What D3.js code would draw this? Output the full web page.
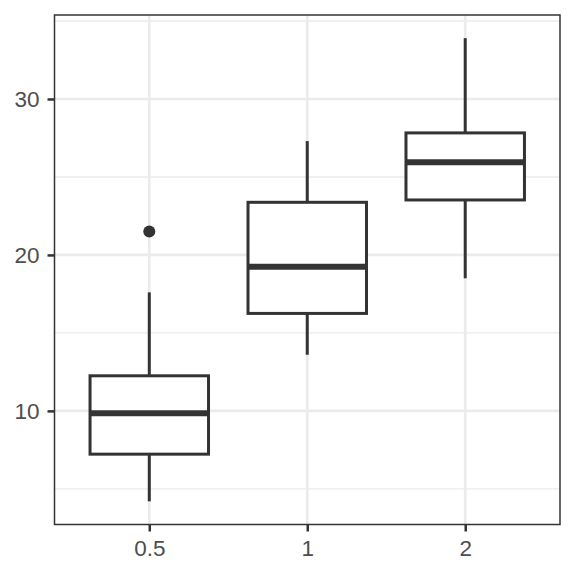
<!DOCTYPE html>
<html><head><meta charset="utf-8">
<script src="https://cdn.jsdelivr.net/npm/d3@7"></script>
<style>body{margin:0;background:#fff}</style>
</head><body>
<script>
const categories = ["0.5", "1", "2"];
const lowerWhisker = [4.2, 13.6, 18.5];
const q1 = [7.225, 16.25, 23.525];
const median = [9.85, 19.25, 25.95];
const q3 = [12.25, 23.375, 27.825];
const upperWhisker = [17.6, 27.3, 33.9];
const outliers = [{cat: "0.5", value: 21.5}];
const yTicks = [10, 20, 30];
const yMinor = [5, 15, 25, 35];

(function () {
const W = 576, H = 576;
const pl = 54.5, pr = 560, pt = 15, pb = 524.5;
const svg = d3.select("body").append("svg").attr("width", W).attr("height", H);

const y = d3.scaleLinear().domain([2.715, 35.385]).range([pb, pt]);
const x = d3.scalePoint().domain(categories).range([pl, pr]).padding(0.6);
const step = x.step();
const boxW = step * 0.75;

svg.append("rect").attr("x", pl).attr("y", pt).attr("width", pr - pl).attr("height", pb - pt).attr("fill", "#fff");

const g = svg.append("g");
g.selectAll(".minor").data(yMinor).join("line")
  .attr("x1", pl).attr("x2", pr).attr("y1", d => y(d)).attr("y2", d => y(d))
  .attr("stroke", "#ebebeb").attr("stroke-width", 1.4);
g.selectAll(".majy").data(yTicks).join("line")
  .attr("x1", pl).attr("x2", pr).attr("y1", d => y(d)).attr("y2", d => y(d))
  .attr("stroke", "#ebebeb").attr("stroke-width", 2.7);
g.selectAll(".majx").data(categories).join("line")
  .attr("y1", pt).attr("y2", pb).attr("x1", d => x(d)).attr("x2", d => x(d))
  .attr("stroke", "#ebebeb").attr("stroke-width", 2.7);

const col = "#333333";
const data = categories.map((c, i) => ({c, lw: lowerWhisker[i], q1: q1[i], med: median[i], q3: q3[i], uw: upperWhisker[i]}));
const bx = g.selectAll(".box").data(data).join("g");
bx.append("line").attr("x1", d => x(d.c)).attr("x2", d => x(d.c)).attr("y1", d => y(d.q3)).attr("y2", d => y(d.uw))
  .attr("stroke", col).attr("stroke-width", 3);
bx.append("line").attr("x1", d => x(d.c)).attr("x2", d => x(d.c)).attr("y1", d => y(d.q1)).attr("y2", d => y(d.lw))
  .attr("stroke", col).attr("stroke-width", 3);
bx.append("rect").attr("x", d => x(d.c) - boxW / 2).attr("width", boxW)
  .attr("y", d => y(d.q3)).attr("height", d => y(d.q1) - y(d.q3))
  .attr("fill", "#fff").attr("stroke", col).attr("stroke-width", 3);
bx.append("line").attr("x1", d => x(d.c) - boxW / 2).attr("x2", d => x(d.c) + boxW / 2)
  .attr("y1", d => y(d.med)).attr("y2", d => y(d.med))
  .attr("stroke", col).attr("stroke-width", 6);
g.selectAll(".out").data(outliers).join("circle")
  .attr("cx", d => x(d.cat)).attr("cy", d => y(d.value)).attr("r", 6).attr("fill", col);

svg.append("rect").attr("x", pl).attr("y", pt).attr("width", pr - pl).attr("height", pb - pt)
  .attr("fill", "none").attr("stroke", "#333333").attr("stroke-width", 1.5);

const yAxis = svg.append("g").attr("transform", `translate(${pl},0)`)
  .call(d3.axisLeft(y).tickValues(yTicks).tickSize(7).tickPadding(8));
const xAxis = svg.append("g").attr("transform", `translate(0,${pb})`)
  .call(d3.axisBottom(x).tickSize(7).tickPadding(9));
[yAxis, xAxis].forEach(a => {
  a.select(".domain").remove();
  a.selectAll(".tick line").attr("stroke", "#333333").attr("stroke-width", 2.5);
  a.selectAll(".tick text").attr("fill", "#4d4d4d").attr("font-family", "Liberation Sans, Arial, sans-serif").attr("font-size", 22.5);
});
})();
</script>
</body></html>
